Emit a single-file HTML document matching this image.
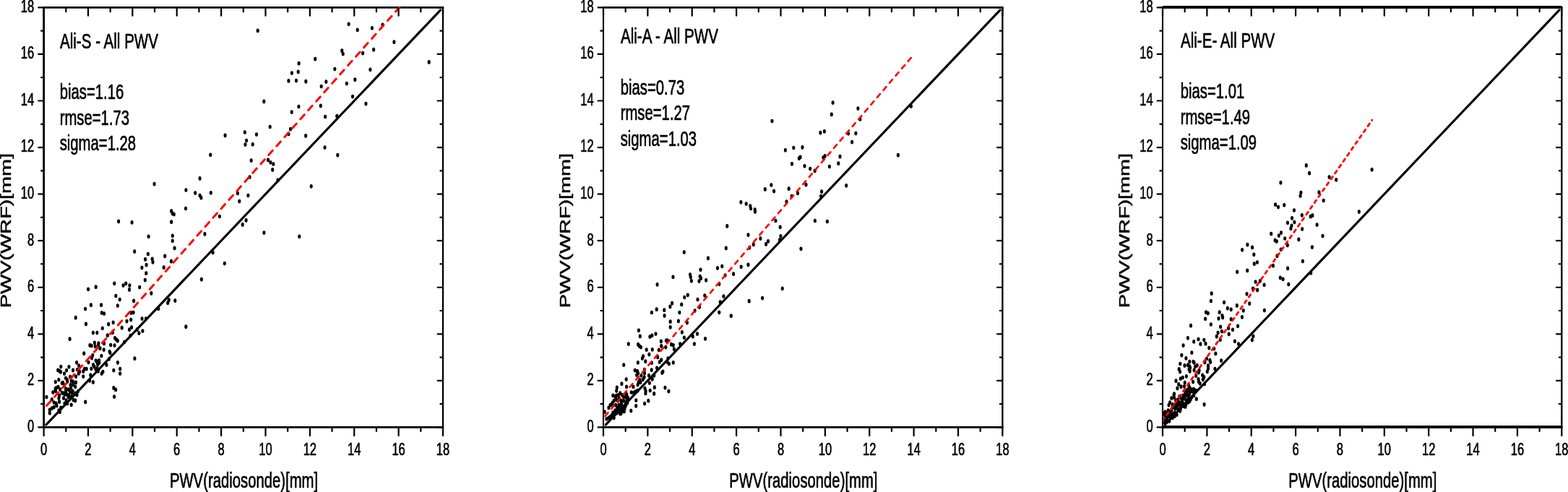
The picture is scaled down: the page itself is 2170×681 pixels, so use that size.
<!DOCTYPE html>
<html><head><meta charset="utf-8"><title>PWV scatter</title>
<style>
html,body{margin:0;padding:0;background:#fff;}
body{width:2170px;height:681px;overflow:hidden;}
svg{display:block;}
text{font-family:"Liberation Sans",Arial,sans-serif;fill:#000;stroke:#000;stroke-width:0.6px;vector-effect:non-scaling-stroke;stroke-linejoin:round;}
</style></head><body>
<svg width="2170" height="681" viewBox="0 0 2170 681">
<rect width="2170" height="681" fill="#fff"/>
<g id="panel1">
<g fill="#000">
<ellipse cx="356.7" cy="42.4" rx="2.05" ry="2.85"/><ellipse cx="482.6" cy="33.3" rx="2.05" ry="2.85"/><ellipse cx="494.7" cy="41.4" rx="2.05" ry="2.85"/><ellipse cx="514.9" cy="38.8" rx="2.05" ry="2.85"/><ellipse cx="529.5" cy="34.3" rx="2.05" ry="2.85"/><ellipse cx="545.4" cy="58.2" rx="2.05" ry="2.85"/><ellipse cx="517.1" cy="68.7" rx="2.05" ry="2.85"/><ellipse cx="502.1" cy="73.6" rx="2.05" ry="2.85"/><ellipse cx="473.3" cy="70.2" rx="2.05" ry="2.85"/><ellipse cx="474.7" cy="74.6" rx="2.05" ry="2.85"/><ellipse cx="436.2" cy="81.7" rx="2.05" ry="2.85"/><ellipse cx="413.6" cy="87.7" rx="2.05" ry="2.85"/><ellipse cx="412.7" cy="99.4" rx="2.05" ry="2.85"/><ellipse cx="403.9" cy="101.1" rx="2.05" ry="2.85"/><ellipse cx="463.3" cy="95.5" rx="2.05" ry="2.85"/><ellipse cx="512.4" cy="96.3" rx="2.05" ry="2.85"/><ellipse cx="593.7" cy="85.9" rx="2.05" ry="2.85"/><ellipse cx="399.4" cy="111.9" rx="2.05" ry="2.85"/><ellipse cx="410.0" cy="111.6" rx="2.05" ry="2.85"/><ellipse cx="423.3" cy="112.7" rx="2.05" ry="2.85"/><ellipse cx="451.3" cy="113.1" rx="2.05" ry="2.85"/><ellipse cx="444.7" cy="119.5" rx="2.05" ry="2.85"/><ellipse cx="479.8" cy="115.6" rx="2.05" ry="2.85"/><ellipse cx="491.3" cy="110.2" rx="2.05" ry="2.85"/><ellipse cx="488.0" cy="133.6" rx="2.05" ry="2.85"/><ellipse cx="506.4" cy="143.6" rx="2.05" ry="2.85"/><ellipse cx="365.3" cy="140.4" rx="2.05" ry="2.85"/><ellipse cx="413.4" cy="147.5" rx="2.05" ry="2.85"/><ellipse cx="443.8" cy="146.4" rx="2.05" ry="2.85"/><ellipse cx="403.7" cy="155.1" rx="2.05" ry="2.85"/><ellipse cx="450.1" cy="161.5" rx="2.05" ry="2.85"/><ellipse cx="466.3" cy="160.7" rx="2.05" ry="2.85"/><ellipse cx="373.7" cy="175.5" rx="2.05" ry="2.85"/><ellipse cx="402.0" cy="178.7" rx="2.05" ry="2.85"/><ellipse cx="399.4" cy="185.4" rx="2.05" ry="2.85"/><ellipse cx="423.1" cy="187.9" rx="2.05" ry="2.85"/><ellipse cx="338.8" cy="183.0" rx="2.05" ry="2.85"/><ellipse cx="355.0" cy="186.1" rx="2.05" ry="2.85"/><ellipse cx="311.6" cy="187.4" rx="2.05" ry="2.85"/><ellipse cx="341.1" cy="194.5" rx="2.05" ry="2.85"/><ellipse cx="339.5" cy="200.1" rx="2.05" ry="2.85"/><ellipse cx="349.7" cy="199.8" rx="2.05" ry="2.85"/><ellipse cx="449.5" cy="204.1" rx="2.05" ry="2.85"/><ellipse cx="467.3" cy="214.7" rx="2.05" ry="2.85"/><ellipse cx="291.3" cy="214.3" rx="2.05" ry="2.85"/><ellipse cx="347.7" cy="222.1" rx="2.05" ry="2.85"/><ellipse cx="371.0" cy="221.4" rx="2.05" ry="2.85"/><ellipse cx="374.4" cy="224.8" rx="2.05" ry="2.85"/><ellipse cx="378.3" cy="227.0" rx="2.05" ry="2.85"/><ellipse cx="377.2" cy="234.9" rx="2.05" ry="2.85"/><ellipse cx="345.6" cy="245.0" rx="2.05" ry="2.85"/><ellipse cx="384.5" cy="249.4" rx="2.05" ry="2.85"/><ellipse cx="430.7" cy="257.8" rx="2.05" ry="2.85"/><ellipse cx="276.6" cy="246.9" rx="2.05" ry="2.85"/><ellipse cx="213.6" cy="254.7" rx="2.05" ry="2.85"/><ellipse cx="257.4" cy="263.0" rx="2.05" ry="2.85"/><ellipse cx="270.2" cy="267.1" rx="2.05" ry="2.85"/><ellipse cx="291.8" cy="266.8" rx="2.05" ry="2.85"/><ellipse cx="276.6" cy="270.5" rx="2.05" ry="2.85"/><ellipse cx="278.4" cy="273.7" rx="2.05" ry="2.85"/><ellipse cx="328.9" cy="267.5" rx="2.05" ry="2.85"/><ellipse cx="343.4" cy="270.5" rx="2.05" ry="2.85"/><ellipse cx="331.3" cy="278.6" rx="2.05" ry="2.85"/><ellipse cx="257.0" cy="288.5" rx="2.05" ry="2.85"/><ellipse cx="237.2" cy="292.2" rx="2.05" ry="2.85"/><ellipse cx="238.7" cy="295.6" rx="2.05" ry="2.85"/><ellipse cx="240.8" cy="296.6" rx="2.05" ry="2.85"/><ellipse cx="303.9" cy="299.5" rx="2.05" ry="2.85"/><ellipse cx="340.6" cy="304.9" rx="2.05" ry="2.85"/><ellipse cx="335.7" cy="310.9" rx="2.05" ry="2.85"/><ellipse cx="164.1" cy="306.4" rx="2.05" ry="2.85"/><ellipse cx="182.6" cy="307.8" rx="2.05" ry="2.85"/><ellipse cx="237.2" cy="307.2" rx="2.05" ry="2.85"/><ellipse cx="365.4" cy="322.0" rx="2.05" ry="2.85"/><ellipse cx="414.3" cy="327.3" rx="2.05" ry="2.85"/><ellipse cx="283.4" cy="323.9" rx="2.05" ry="2.85"/><ellipse cx="205.6" cy="327.3" rx="2.05" ry="2.85"/><ellipse cx="238.8" cy="326.3" rx="2.05" ry="2.85"/><ellipse cx="238.8" cy="333.3" rx="2.05" ry="2.85"/><ellipse cx="241.6" cy="343.4" rx="2.05" ry="2.85"/><ellipse cx="294.6" cy="349.6" rx="2.05" ry="2.85"/><ellipse cx="186.2" cy="348.1" rx="2.05" ry="2.85"/><ellipse cx="204.9" cy="351.5" rx="2.05" ry="2.85"/><ellipse cx="228.2" cy="354.4" rx="2.05" ry="2.85"/><ellipse cx="201.1" cy="358.9" rx="2.05" ry="2.85"/><ellipse cx="210.7" cy="358.4" rx="2.05" ry="2.85"/><ellipse cx="211.5" cy="362.8" rx="2.05" ry="2.85"/><ellipse cx="236.9" cy="361.7" rx="2.05" ry="2.85"/><ellipse cx="202.6" cy="366.7" rx="2.05" ry="2.85"/><ellipse cx="196.4" cy="370.5" rx="2.05" ry="2.85"/><ellipse cx="226.7" cy="370.2" rx="2.05" ry="2.85"/><ellipse cx="310.8" cy="364.6" rx="2.05" ry="2.85"/><ellipse cx="202.3" cy="378.2" rx="2.05" ry="2.85"/><ellipse cx="200.8" cy="387.6" rx="2.05" ry="2.85"/><ellipse cx="278.9" cy="386.7" rx="2.05" ry="2.85"/><ellipse cx="158.3" cy="392.3" rx="2.05" ry="2.85"/><ellipse cx="174.2" cy="392.3" rx="2.05" ry="2.85"/><ellipse cx="170.6" cy="395.0" rx="2.05" ry="2.85"/><ellipse cx="179.4" cy="395.0" rx="2.05" ry="2.85"/><ellipse cx="179.0" cy="400.9" rx="2.05" ry="2.85"/><ellipse cx="193.2" cy="397.5" rx="2.05" ry="2.85"/><ellipse cx="132.7" cy="397.2" rx="2.05" ry="2.85"/><ellipse cx="122.1" cy="400.3" rx="2.05" ry="2.85"/><ellipse cx="209.4" cy="405.9" rx="2.05" ry="2.85"/><ellipse cx="160.3" cy="409.5" rx="2.05" ry="2.85"/><ellipse cx="165.7" cy="414.5" rx="2.05" ry="2.85"/><ellipse cx="185.1" cy="416.4" rx="2.05" ry="2.85"/><ellipse cx="233.7" cy="415.2" rx="2.05" ry="2.85"/><ellipse cx="242.3" cy="416.1" rx="2.05" ry="2.85"/><ellipse cx="232.2" cy="419.2" rx="2.05" ry="2.85"/><ellipse cx="125.9" cy="422.2" rx="2.05" ry="2.85"/><ellipse cx="140.1" cy="422.2" rx="2.05" ry="2.85"/><ellipse cx="162.8" cy="423.0" rx="2.05" ry="2.85"/><ellipse cx="118.1" cy="427.5" rx="2.05" ry="2.85"/><ellipse cx="219.3" cy="427.2" rx="2.05" ry="2.85"/><ellipse cx="140.8" cy="432.9" rx="2.05" ry="2.85"/><ellipse cx="144.1" cy="434.0" rx="2.05" ry="2.85"/><ellipse cx="181.4" cy="432.9" rx="2.05" ry="2.85"/><ellipse cx="184.6" cy="432.5" rx="2.05" ry="2.85"/><ellipse cx="104.7" cy="439.7" rx="2.05" ry="2.85"/><ellipse cx="196.6" cy="441.0" rx="2.05" ry="2.85"/><ellipse cx="202.0" cy="441.0" rx="2.05" ry="2.85"/><ellipse cx="181.2" cy="442.5" rx="2.05" ry="2.85"/><ellipse cx="175.5" cy="444.6" rx="2.05" ry="2.85"/><ellipse cx="156.7" cy="446.3" rx="2.05" ry="2.85"/><ellipse cx="150.2" cy="448.7" rx="2.05" ry="2.85"/><ellipse cx="119.0" cy="448.4" rx="2.05" ry="2.85"/><ellipse cx="182.1" cy="453.1" rx="2.05" ry="2.85"/><ellipse cx="168.7" cy="453.7" rx="2.05" ry="2.85"/><ellipse cx="179.0" cy="456.2" rx="2.05" ry="2.85"/><ellipse cx="189.8" cy="456.2" rx="2.05" ry="2.85"/><ellipse cx="141.8" cy="454.3" rx="2.05" ry="2.85"/><ellipse cx="257.3" cy="452.2" rx="2.05" ry="2.85"/><ellipse cx="197.4" cy="458.1" rx="2.05" ry="2.85"/><ellipse cx="192.4" cy="461.2" rx="2.05" ry="2.85"/><ellipse cx="128.9" cy="460.5" rx="2.05" ry="2.85"/><ellipse cx="134.3" cy="460.6" rx="2.05" ry="2.85"/><ellipse cx="155.9" cy="460.2" rx="2.05" ry="2.85"/><ellipse cx="148.8" cy="464.2" rx="2.05" ry="2.85"/><ellipse cx="180.5" cy="464.6" rx="2.05" ry="2.85"/><ellipse cx="159.1" cy="467.9" rx="2.05" ry="2.85"/><ellipse cx="161.0" cy="469.8" rx="2.05" ry="2.85"/><ellipse cx="162.8" cy="471.7" rx="2.05" ry="2.85"/><ellipse cx="96.6" cy="469.2" rx="2.05" ry="2.85"/><ellipse cx="172.1" cy="473.5" rx="2.05" ry="2.85"/><ellipse cx="130.9" cy="474.4" rx="2.05" ry="2.85"/><ellipse cx="136.4" cy="475.2" rx="2.05" ry="2.85"/><ellipse cx="124.4" cy="477.9" rx="2.05" ry="2.85"/><ellipse cx="126.7" cy="478.6" rx="2.05" ry="2.85"/><ellipse cx="144.1" cy="475.4" rx="2.05" ry="2.85"/><ellipse cx="153.2" cy="477.5" rx="2.05" ry="2.85"/><ellipse cx="158.5" cy="478.1" rx="2.05" ry="2.85"/><ellipse cx="131.8" cy="479.4" rx="2.05" ry="2.85"/><ellipse cx="136.2" cy="477.9" rx="2.05" ry="2.85"/><ellipse cx="116.2" cy="489.2" rx="2.05" ry="2.85"/><ellipse cx="128.2" cy="491.8" rx="2.05" ry="2.85"/><ellipse cx="140.4" cy="492.5" rx="2.05" ry="2.85"/><ellipse cx="127.1" cy="495.5" rx="2.05" ry="2.85"/><ellipse cx="151.0" cy="496.8" rx="2.05" ry="2.85"/><ellipse cx="186.4" cy="496.2" rx="2.05" ry="2.85"/><ellipse cx="132.7" cy="499.0" rx="2.05" ry="2.85"/><ellipse cx="137.1" cy="498.8" rx="2.05" ry="2.85"/><ellipse cx="134.3" cy="501.5" rx="2.05" ry="2.85"/><ellipse cx="137.4" cy="502.1" rx="2.05" ry="2.85"/><ellipse cx="106.1" cy="501.8" rx="2.05" ry="2.85"/><ellipse cx="122.5" cy="501.5" rx="2.05" ry="2.85"/><ellipse cx="162.9" cy="501.8" rx="2.05" ry="2.85"/><ellipse cx="129.1" cy="504.9" rx="2.05" ry="2.85"/><ellipse cx="147.4" cy="504.9" rx="2.05" ry="2.85"/><ellipse cx="109.2" cy="506.0" rx="2.05" ry="2.85"/><ellipse cx="130.5" cy="507.6" rx="2.05" ry="2.85"/><ellipse cx="84.3" cy="507.6" rx="2.05" ry="2.85"/><ellipse cx="95.4" cy="507.8" rx="2.05" ry="2.85"/><ellipse cx="126.4" cy="510.2" rx="2.05" ry="2.85"/><ellipse cx="117.0" cy="510.4" rx="2.05" ry="2.85"/><ellipse cx="119.7" cy="510.6" rx="2.05" ry="2.85"/><ellipse cx="132.4" cy="510.9" rx="2.05" ry="2.85"/><ellipse cx="166.2" cy="510.6" rx="2.05" ry="2.85"/><ellipse cx="80.2" cy="512.3" rx="2.05" ry="2.85"/><ellipse cx="82.7" cy="513.7" rx="2.05" ry="2.85"/><ellipse cx="84.0" cy="514.8" rx="2.05" ry="2.85"/><ellipse cx="92.1" cy="512.6" rx="2.05" ry="2.85"/><ellipse cx="101.1" cy="512.4" rx="2.05" ry="2.85"/><ellipse cx="107.0" cy="511.5" rx="2.05" ry="2.85"/><ellipse cx="157.3" cy="512.6" rx="2.05" ry="2.85"/><ellipse cx="115.3" cy="513.9" rx="2.05" ry="2.85"/><ellipse cx="135.8" cy="513.7" rx="2.05" ry="2.85"/><ellipse cx="142.4" cy="514.5" rx="2.05" ry="2.85"/><ellipse cx="140.7" cy="517.0" rx="2.05" ry="2.85"/><ellipse cx="89.0" cy="517.0" rx="2.05" ry="2.85"/><ellipse cx="108.7" cy="517.0" rx="2.05" ry="2.85"/><ellipse cx="166.2" cy="517.0" rx="2.05" ry="2.85"/><ellipse cx="125.3" cy="519.2" rx="2.05" ry="2.85"/><ellipse cx="105.0" cy="521.1" rx="2.05" ry="2.85"/><ellipse cx="115.3" cy="521.1" rx="2.05" ry="2.85"/><ellipse cx="97.1" cy="521.5" rx="2.05" ry="2.85"/><ellipse cx="91.0" cy="523.3" rx="2.05" ry="2.85"/><ellipse cx="92.8" cy="525.3" rx="2.05" ry="2.85"/><ellipse cx="81.3" cy="525.5" rx="2.05" ry="2.85"/><ellipse cx="98.7" cy="527.0" rx="2.05" ry="2.85"/><ellipse cx="100.9" cy="528.1" rx="2.05" ry="2.85"/><ellipse cx="76.8" cy="528.6" rx="2.05" ry="2.85"/><ellipse cx="105.0" cy="529.4" rx="2.05" ry="2.85"/><ellipse cx="87.1" cy="529.7" rx="2.05" ry="2.85"/><ellipse cx="124.1" cy="526.8" rx="2.05" ry="2.85"/><ellipse cx="128.8" cy="528.9" rx="2.05" ry="2.85"/><ellipse cx="93.2" cy="528.1" rx="2.05" ry="2.85"/><ellipse cx="97.6" cy="532.5" rx="2.05" ry="2.85"/><ellipse cx="88.8" cy="533.1" rx="2.05" ry="2.85"/><ellipse cx="104.2" cy="535.3" rx="2.05" ry="2.85"/><ellipse cx="80.5" cy="535.6" rx="2.05" ry="2.85"/><ellipse cx="76.6" cy="538.6" rx="2.05" ry="2.85"/><ellipse cx="98.2" cy="536.9" rx="2.05" ry="2.85"/><ellipse cx="91.0" cy="538.0" rx="2.05" ry="2.85"/><ellipse cx="83.2" cy="539.1" rx="2.05" ry="2.85"/><ellipse cx="157.3" cy="536.9" rx="2.05" ry="2.85"/><ellipse cx="160.1" cy="539.4" rx="2.05" ry="2.85"/><ellipse cx="151.6" cy="486.6" rx="2.05" ry="2.85"/><ellipse cx="152.4" cy="488.3" rx="2.05" ry="2.85"/><ellipse cx="143.7" cy="484.1" rx="2.05" ry="2.85"/><ellipse cx="138.5" cy="482.2" rx="2.05" ry="2.85"/><ellipse cx="64.4" cy="549.6" rx="2.05" ry="2.85"/><ellipse cx="118.2" cy="556.4" rx="2.05" ry="2.85"/><ellipse cx="158.1" cy="549.0" rx="2.05" ry="2.85"/><ellipse cx="98.7" cy="560.3" rx="2.05" ry="2.85"/><ellipse cx="101.7" cy="553.6" rx="2.05" ry="2.85"/><ellipse cx="104.2" cy="554.4" rx="2.05" ry="2.85"/><ellipse cx="68.8" cy="571.7" rx="2.05" ry="2.85"/><ellipse cx="82.9" cy="570.2" rx="2.05" ry="2.85"/><ellipse cx="68.8" cy="567.3" rx="2.05" ry="2.85"/><ellipse cx="71.8" cy="565.1" rx="2.05" ry="2.85"/><ellipse cx="74.7" cy="563.6" rx="2.05" ry="2.85"/><ellipse cx="78.4" cy="561.4" rx="2.05" ry="2.85"/><ellipse cx="81.4" cy="568.0" rx="2.05" ry="2.85"/><ellipse cx="84.3" cy="564.3" rx="2.05" ry="2.85"/><ellipse cx="71.8" cy="552.9" rx="2.05" ry="2.85"/><ellipse cx="74.7" cy="557.0" rx="2.05" ry="2.85"/><ellipse cx="77.7" cy="558.4" rx="2.05" ry="2.85"/><ellipse cx="81.4" cy="551.1" rx="2.05" ry="2.85"/><ellipse cx="82.1" cy="547.4" rx="2.05" ry="2.85"/><ellipse cx="73.3" cy="542.9" rx="2.05" ry="2.85"/><ellipse cx="77.0" cy="541.5" rx="2.05" ry="2.85"/><ellipse cx="82.1" cy="556.2" rx="2.05" ry="2.85"/><ellipse cx="88.0" cy="551.1" rx="2.05" ry="2.85"/><ellipse cx="91.7" cy="554.0" rx="2.05" ry="2.85"/><ellipse cx="93.2" cy="558.4" rx="2.05" ry="2.85"/><ellipse cx="89.5" cy="558.4" rx="2.05" ry="2.85"/><ellipse cx="85.8" cy="543.7" rx="2.05" ry="2.85"/><ellipse cx="89.5" cy="545.9" rx="2.05" ry="2.85"/><ellipse cx="93.2" cy="546.6" rx="2.05" ry="2.85"/><ellipse cx="96.9" cy="542.2" rx="2.05" ry="2.85"/><ellipse cx="99.8" cy="544.4" rx="2.05" ry="2.85"/><ellipse cx="104.2" cy="544.4" rx="2.05" ry="2.85"/><ellipse cx="106.5" cy="546.6" rx="2.05" ry="2.85"/><ellipse cx="107.9" cy="541.5" rx="2.05" ry="2.85"/><ellipse cx="91.0" cy="542.2" rx="2.05" ry="2.85"/><ellipse cx="94.7" cy="549.6" rx="2.05" ry="2.85"/><ellipse cx="98.3" cy="549.6" rx="2.05" ry="2.85"/><ellipse cx="110.1" cy="514.4" rx="2.05" ry="2.85"/><ellipse cx="135.2" cy="504.4" rx="2.05" ry="2.85"/><ellipse cx="134.5" cy="509.6" rx="2.05" ry="2.85"/><ellipse cx="77.7" cy="536.9" rx="2.05" ry="2.85"/><ellipse cx="85.8" cy="530.2" rx="2.05" ry="2.85"/><ellipse cx="101.3" cy="532.4" rx="2.05" ry="2.85"/><ellipse cx="94.7" cy="539.1" rx="2.05" ry="2.85"/><ellipse cx="100.6" cy="541.3" rx="2.05" ry="2.85"/><ellipse cx="91.7" cy="545.0" rx="2.05" ry="2.85"/><ellipse cx="87.3" cy="544.2" rx="2.05" ry="2.85"/><ellipse cx="95.4" cy="547.2" rx="2.05" ry="2.85"/>
</g>
<line x1="63.90" y1="587.90" x2="609.70" y2="13.90" stroke="#000" stroke-width="3.15" stroke-linecap="round"/>
<path d="M59.15 10.40H614.15M59.15 591.40H614.15" fill="none" stroke="#000" stroke-width="2.7"/>
<line x1="60.60" y1="10.40" x2="60.60" y2="591.40" stroke="#000" stroke-width="2.9"/>
<line x1="613.00" y1="10.40" x2="613.00" y2="591.40" stroke="#000" stroke-width="2.3" stroke-linecap="square"/>
<line x1="552.70" y1="10.30" x2="63.70" y2="562.50" stroke="#f00" stroke-width="3.0" stroke-dasharray="8.3 8.257" stroke-dashoffset="0.4" stroke-linecap="round"/>
<path d="M60.60 592.40v10.7M60.60 11.40v10.3M59.60 591.40h-6.4M612.00 591.40h-6.4M91.29 592.40v4.6M91.29 11.40v4.9M59.60 559.12h-2.6M612.00 559.12h-2.6M121.98 592.40v10.7M121.98 11.40v10.3M59.60 526.84h-6.4M612.00 526.84h-6.4M152.67 592.40v4.6M152.67 11.40v4.9M59.60 494.57h-2.6M612.00 494.57h-2.6M183.36 592.40v10.7M183.36 11.40v10.3M59.60 462.29h-6.4M612.00 462.29h-6.4M214.04 592.40v4.6M214.04 11.40v4.9M59.60 430.01h-2.6M612.00 430.01h-2.6M244.73 592.40v10.7M244.73 11.40v10.3M59.60 397.73h-6.4M612.00 397.73h-6.4M275.42 592.40v4.6M275.42 11.40v4.9M59.60 365.46h-2.6M612.00 365.46h-2.6M306.11 592.40v10.7M306.11 11.40v10.3M59.60 333.18h-6.4M612.00 333.18h-6.4M336.80 592.40v4.6M336.80 11.40v4.9M59.60 300.90h-2.6M612.00 300.90h-2.6M367.49 592.40v10.7M367.49 11.40v10.3M59.60 268.62h-6.4M612.00 268.62h-6.4M398.18 592.40v4.6M398.18 11.40v4.9M59.60 236.34h-2.6M612.00 236.34h-2.6M428.87 592.40v10.7M428.87 11.40v10.3M59.60 204.07h-6.4M612.00 204.07h-6.4M459.56 592.40v4.6M459.56 11.40v4.9M59.60 171.79h-2.6M612.00 171.79h-2.6M490.24 592.40v10.7M490.24 11.40v10.3M59.60 139.51h-6.4M612.00 139.51h-6.4M520.93 592.40v4.6M520.93 11.40v4.9M59.60 107.23h-2.6M612.00 107.23h-2.6M551.62 592.40v10.7M551.62 11.40v10.3M59.60 74.96h-6.4M612.00 74.96h-6.4M582.31 592.40v4.6M582.31 11.40v4.9M59.60 42.68h-2.6M612.00 42.68h-2.6M613.00 592.40v10.7M613.00 11.40v10.3M59.60 10.40h-6.4M612.00 10.40h-6.4" stroke="#000" stroke-width="2.2" fill="none" stroke-linecap="round"/>
<text transform="translate(60.60,629.80) scale(0.69,1)" font-size="24.0" text-anchor="middle">0</text>
<text transform="translate(47.20,597.80) scale(0.69,1)" font-size="24.0" text-anchor="end">0</text>
<text transform="translate(121.98,629.80) scale(0.69,1)" font-size="24.0" text-anchor="middle">2</text>
<text transform="translate(47.20,533.24) scale(0.69,1)" font-size="24.0" text-anchor="end">2</text>
<text transform="translate(183.36,629.80) scale(0.69,1)" font-size="24.0" text-anchor="middle">4</text>
<text transform="translate(47.20,468.69) scale(0.69,1)" font-size="24.0" text-anchor="end">4</text>
<text transform="translate(244.73,629.80) scale(0.69,1)" font-size="24.0" text-anchor="middle">6</text>
<text transform="translate(47.20,404.13) scale(0.69,1)" font-size="24.0" text-anchor="end">6</text>
<text transform="translate(306.11,629.80) scale(0.69,1)" font-size="24.0" text-anchor="middle">8</text>
<text transform="translate(47.20,339.58) scale(0.69,1)" font-size="24.0" text-anchor="end">8</text>
<text transform="translate(367.49,629.80) scale(0.69,1)" font-size="24.0" text-anchor="middle">10</text>
<text transform="translate(47.20,275.02) scale(0.69,1)" font-size="24.0" text-anchor="end">10</text>
<text transform="translate(428.87,629.80) scale(0.69,1)" font-size="24.0" text-anchor="middle">12</text>
<text transform="translate(47.20,210.47) scale(0.69,1)" font-size="24.0" text-anchor="end">12</text>
<text transform="translate(490.24,629.80) scale(0.69,1)" font-size="24.0" text-anchor="middle">14</text>
<text transform="translate(47.20,145.91) scale(0.69,1)" font-size="24.0" text-anchor="end">14</text>
<text transform="translate(551.62,629.80) scale(0.69,1)" font-size="24.0" text-anchor="middle">16</text>
<text transform="translate(47.20,81.36) scale(0.69,1)" font-size="24.0" text-anchor="end">16</text>
<text transform="translate(613.00,629.80) scale(0.69,1)" font-size="24.0" text-anchor="middle">18</text>
<text transform="translate(47.20,16.80) scale(0.69,1)" font-size="24.0" text-anchor="end">18</text>
<text transform="translate(337.50,674.90) scale(0.69,1)" font-size="29.4" text-anchor="middle">PWV(radiosonde)[mm]</text>
<text transform="translate(14.75,319.10) scale(0.69,1) rotate(-90)" font-size="28.8" text-anchor="middle">PWV(WRF)[mm]</text>
<text transform="translate(83.00,66.50) scale(0.7,1)" font-size="29.4" text-anchor="start">Ali-S - All PWV</text>
<text transform="translate(82.70,137.40) scale(0.69,1)" font-size="29.4" text-anchor="start">bias=1.16</text>
<text transform="translate(82.70,172.80) scale(0.69,1)" font-size="29.4" text-anchor="start">rmse=1.73</text>
<text transform="translate(82.70,208.10) scale(0.69,1)" font-size="29.4" text-anchor="start">sigma=1.28</text>
</g>
<g id="panel2">
<g fill="#000">
<ellipse cx="1152.6" cy="142.1" rx="2.05" ry="2.85"/><ellipse cx="1187.4" cy="150.1" rx="2.05" ry="2.85"/><ellipse cx="1150.8" cy="158.4" rx="2.05" ry="2.85"/><ellipse cx="1190.3" cy="164.9" rx="2.05" ry="2.85"/><ellipse cx="1260.9" cy="146.9" rx="2.05" ry="2.85"/><ellipse cx="1135.4" cy="183.7" rx="2.05" ry="2.85"/><ellipse cx="1140.9" cy="181.8" rx="2.05" ry="2.85"/><ellipse cx="1174.1" cy="184.8" rx="2.05" ry="2.85"/><ellipse cx="1184.4" cy="184.5" rx="2.05" ry="2.85"/><ellipse cx="1179.1" cy="196.6" rx="2.05" ry="2.85"/><ellipse cx="1098.3" cy="204.5" rx="2.05" ry="2.85"/><ellipse cx="1110.5" cy="203.9" rx="2.05" ry="2.85"/><ellipse cx="1086.9" cy="207.8" rx="2.05" ry="2.85"/><ellipse cx="1242.9" cy="214.7" rx="2.05" ry="2.85"/><ellipse cx="1162.5" cy="216.7" rx="2.05" ry="2.85"/><ellipse cx="1139.4" cy="218.1" rx="2.05" ry="2.85"/><ellipse cx="1141.6" cy="215.9" rx="2.05" ry="2.85"/><ellipse cx="1105.9" cy="219.2" rx="2.05" ry="2.85"/><ellipse cx="1107.6" cy="217.4" rx="2.05" ry="2.85"/><ellipse cx="1096.0" cy="226.8" rx="2.05" ry="2.85"/><ellipse cx="1113.5" cy="229.8" rx="2.05" ry="2.85"/><ellipse cx="1147.9" cy="230.5" rx="2.05" ry="2.85"/><ellipse cx="1160.3" cy="226.2" rx="2.05" ry="2.85"/><ellipse cx="1121.2" cy="233.5" rx="2.05" ry="2.85"/><ellipse cx="1127.7" cy="236.4" rx="2.05" ry="2.85"/><ellipse cx="1115.5" cy="255.7" rx="2.05" ry="2.85"/><ellipse cx="1171.2" cy="256.8" rx="2.05" ry="2.85"/><ellipse cx="1067.4" cy="256.0" rx="2.05" ry="2.85"/><ellipse cx="1058.8" cy="261.9" rx="2.05" ry="2.85"/><ellipse cx="1071.1" cy="264.6" rx="2.05" ry="2.85"/><ellipse cx="1091.7" cy="261.2" rx="2.05" ry="2.85"/><ellipse cx="1104.0" cy="267.4" rx="2.05" ry="2.85"/><ellipse cx="1095.6" cy="271.5" rx="2.05" ry="2.85"/><ellipse cx="1137.1" cy="265.2" rx="2.05" ry="2.85"/><ellipse cx="1136.1" cy="271.5" rx="2.05" ry="2.85"/><ellipse cx="1088.5" cy="279.2" rx="2.05" ry="2.85"/><ellipse cx="1025.4" cy="279.8" rx="2.05" ry="2.85"/><ellipse cx="1032.7" cy="282.1" rx="2.05" ry="2.85"/><ellipse cx="1038.3" cy="285.1" rx="2.05" ry="2.85"/><ellipse cx="1039.1" cy="288.5" rx="2.05" ry="2.85"/><ellipse cx="1044.7" cy="290.0" rx="2.05" ry="2.85"/><ellipse cx="1045.0" cy="292.9" rx="2.05" ry="2.85"/><ellipse cx="1073.4" cy="305.5" rx="2.05" ry="2.85"/><ellipse cx="1079.7" cy="314.3" rx="2.05" ry="2.85"/><ellipse cx="1127.9" cy="305.5" rx="2.05" ry="2.85"/><ellipse cx="1144.9" cy="306.5" rx="2.05" ry="2.85"/><ellipse cx="1006.3" cy="312.9" rx="2.05" ry="2.85"/><ellipse cx="1035.5" cy="325.1" rx="2.05" ry="2.85"/><ellipse cx="1052.4" cy="330.1" rx="2.05" ry="2.85"/><ellipse cx="1080.4" cy="326.9" rx="2.05" ry="2.85"/><ellipse cx="1079.0" cy="332.0" rx="2.05" ry="2.85"/><ellipse cx="1063.0" cy="333.9" rx="2.05" ry="2.85"/><ellipse cx="1060.1" cy="337.9" rx="2.05" ry="2.85"/><ellipse cx="1042.8" cy="338.4" rx="2.05" ry="2.85"/><ellipse cx="1037.2" cy="342.8" rx="2.05" ry="2.85"/><ellipse cx="1004.8" cy="343.4" rx="2.05" ry="2.85"/><ellipse cx="1108.5" cy="344.3" rx="2.05" ry="2.85"/><ellipse cx="946.8" cy="349.0" rx="2.05" ry="2.85"/><ellipse cx="980.0" cy="357.4" rx="2.05" ry="2.85"/><ellipse cx="1035.5" cy="366.4" rx="2.05" ry="2.85"/><ellipse cx="1025.7" cy="369.3" rx="2.05" ry="2.85"/><ellipse cx="999.3" cy="368.5" rx="2.05" ry="2.85"/><ellipse cx="993.0" cy="371.1" rx="2.05" ry="2.85"/><ellipse cx="969.5" cy="373.3" rx="2.05" ry="2.85"/><ellipse cx="1003.6" cy="381.1" rx="2.05" ry="2.85"/><ellipse cx="1015.1" cy="379.2" rx="2.05" ry="2.85"/><ellipse cx="931.5" cy="383.3" rx="2.05" ry="2.85"/><ellipse cx="955.1" cy="380.0" rx="2.05" ry="2.85"/><ellipse cx="955.8" cy="383.6" rx="2.05" ry="2.85"/><ellipse cx="968.7" cy="382.6" rx="2.05" ry="2.85"/><ellipse cx="970.1" cy="385.1" rx="2.05" ry="2.85"/><ellipse cx="977.2" cy="387.8" rx="2.05" ry="2.85"/><ellipse cx="956.9" cy="388.8" rx="2.05" ry="2.85"/><ellipse cx="967.5" cy="389.1" rx="2.05" ry="2.85"/><ellipse cx="909.6" cy="393.8" rx="2.05" ry="2.85"/><ellipse cx="995.3" cy="393.1" rx="2.05" ry="2.85"/><ellipse cx="1082.8" cy="399.3" rx="2.05" ry="2.85"/><ellipse cx="951.8" cy="408.3" rx="2.05" ry="2.85"/><ellipse cx="947.3" cy="411.5" rx="2.05" ry="2.85"/><ellipse cx="975.3" cy="409.0" rx="2.05" ry="2.85"/><ellipse cx="965.5" cy="414.5" rx="2.05" ry="2.85"/><ellipse cx="1001.4" cy="410.1" rx="2.05" ry="2.85"/><ellipse cx="996.7" cy="418.2" rx="2.05" ry="2.85"/><ellipse cx="1036.7" cy="416.7" rx="2.05" ry="2.85"/><ellipse cx="1055.1" cy="412.6" rx="2.05" ry="2.85"/><ellipse cx="930.1" cy="419.7" rx="2.05" ry="2.85"/><ellipse cx="943.2" cy="421.4" rx="2.05" ry="2.85"/><ellipse cx="927.4" cy="424.4" rx="2.05" ry="2.85"/><ellipse cx="908.7" cy="428.2" rx="2.05" ry="2.85"/><ellipse cx="919.3" cy="429.2" rx="2.05" ry="2.85"/><ellipse cx="901.9" cy="432.5" rx="2.05" ry="2.85"/><ellipse cx="940.4" cy="432.5" rx="2.05" ry="2.85"/><ellipse cx="961.6" cy="430.0" rx="2.05" ry="2.85"/><ellipse cx="968.0" cy="425.1" rx="2.05" ry="2.85"/><ellipse cx="995.3" cy="432.3" rx="2.05" ry="2.85"/><ellipse cx="919.6" cy="436.9" rx="2.05" ry="2.85"/><ellipse cx="1011.8" cy="437.2" rx="2.05" ry="2.85"/><ellipse cx="927.7" cy="445.2" rx="2.05" ry="2.85"/><ellipse cx="938.9" cy="444.4" rx="2.05" ry="2.85"/><ellipse cx="950.9" cy="446.6" rx="2.05" ry="2.85"/><ellipse cx="927.7" cy="452.8" rx="2.05" ry="2.85"/><ellipse cx="883.9" cy="457.3" rx="2.05" ry="2.85"/><ellipse cx="943.9" cy="459.8" rx="2.05" ry="2.85"/><ellipse cx="907.5" cy="462.1" rx="2.05" ry="2.85"/><ellipse cx="902.4" cy="464.3" rx="2.05" ry="2.85"/><ellipse cx="899.4" cy="466.1" rx="2.05" ry="2.85"/><ellipse cx="885.8" cy="465.4" rx="2.05" ry="2.85"/><ellipse cx="965.0" cy="462.0" rx="2.05" ry="2.85"/><ellipse cx="958.8" cy="465.7" rx="2.05" ry="2.85"/><ellipse cx="946.9" cy="467.3" rx="2.05" ry="2.85"/><ellipse cx="976.1" cy="468.8" rx="2.05" ry="2.85"/><ellipse cx="914.9" cy="472.4" rx="2.05" ry="2.85"/><ellipse cx="922.0" cy="471.3" rx="2.05" ry="2.85"/><ellipse cx="923.7" cy="471.0" rx="2.05" ry="2.85"/><ellipse cx="869.8" cy="476.1" rx="2.05" ry="2.85"/><ellipse cx="883.1" cy="476.7" rx="2.05" ry="2.85"/><ellipse cx="884.8" cy="478.9" rx="2.05" ry="2.85"/><ellipse cx="887.0" cy="480.5" rx="2.05" ry="2.85"/><ellipse cx="894.7" cy="484.1" rx="2.05" ry="2.85"/><ellipse cx="902.8" cy="483.8" rx="2.05" ry="2.85"/><ellipse cx="911.9" cy="484.4" rx="2.05" ry="2.85"/><ellipse cx="915.2" cy="478.9" rx="2.05" ry="2.85"/><ellipse cx="921.3" cy="480.5" rx="2.05" ry="2.85"/><ellipse cx="929.0" cy="476.7" rx="2.05" ry="2.85"/><ellipse cx="931.8" cy="477.8" rx="2.05" ry="2.85"/><ellipse cx="932.9" cy="483.3" rx="2.05" ry="2.85"/><ellipse cx="960.9" cy="476.1" rx="2.05" ry="2.85"/><ellipse cx="941.2" cy="476.1" rx="2.05" ry="2.85"/><ellipse cx="898.4" cy="490.5" rx="2.05" ry="2.85"/><ellipse cx="890.1" cy="493.2" rx="2.05" ry="2.85"/><ellipse cx="888.9" cy="496.0" rx="2.05" ry="2.85"/><ellipse cx="893.3" cy="500.2" rx="2.05" ry="2.85"/><ellipse cx="882.8" cy="501.8" rx="2.05" ry="2.85"/><ellipse cx="863.2" cy="505.1" rx="2.05" ry="2.85"/><ellipse cx="910.2" cy="494.4" rx="2.05" ry="2.85"/><ellipse cx="915.2" cy="498.2" rx="2.05" ry="2.85"/><ellipse cx="912.8" cy="501.0" rx="2.05" ry="2.85"/><ellipse cx="901.9" cy="502.1" rx="2.05" ry="2.85"/><ellipse cx="924.4" cy="496.0" rx="2.05" ry="2.85"/><ellipse cx="923.5" cy="501.0" rx="2.05" ry="2.85"/><ellipse cx="925.9" cy="503.5" rx="2.05" ry="2.85"/><ellipse cx="931.8" cy="501.8" rx="2.05" ry="2.85"/><ellipse cx="909.1" cy="509.3" rx="2.05" ry="2.85"/><ellipse cx="901.7" cy="512.1" rx="2.05" ry="2.85"/><ellipse cx="892.0" cy="511.5" rx="2.05" ry="2.85"/><ellipse cx="878.7" cy="512.6" rx="2.05" ry="2.85"/><ellipse cx="882.0" cy="513.7" rx="2.05" ry="2.85"/><ellipse cx="883.1" cy="516.5" rx="2.05" ry="2.85"/><ellipse cx="917.4" cy="514.3" rx="2.05" ry="2.85"/><ellipse cx="916.3" cy="516.1" rx="2.05" ry="2.85"/><ellipse cx="881.2" cy="519.0" rx="2.05" ry="2.85"/><ellipse cx="892.0" cy="516.5" rx="2.05" ry="2.85"/><ellipse cx="898.0" cy="519.8" rx="2.05" ry="2.85"/><ellipse cx="905.2" cy="519.8" rx="2.05" ry="2.85"/><ellipse cx="887.5" cy="519.8" rx="2.05" ry="2.85"/><ellipse cx="891.6" cy="522.0" rx="2.05" ry="2.85"/><ellipse cx="902.7" cy="524.8" rx="2.05" ry="2.85"/><ellipse cx="889.7" cy="525.3" rx="2.05" ry="2.85"/><ellipse cx="885.3" cy="525.9" rx="2.05" ry="2.85"/><ellipse cx="866.7" cy="525.0" rx="2.05" ry="2.85"/><ellipse cx="883.7" cy="529.2" rx="2.05" ry="2.85"/><ellipse cx="886.4" cy="529.2" rx="2.05" ry="2.85"/><ellipse cx="898.9" cy="530.0" rx="2.05" ry="2.85"/><ellipse cx="860.4" cy="531.2" rx="2.05" ry="2.85"/><ellipse cx="882.6" cy="532.5" rx="2.05" ry="2.85"/><ellipse cx="867.1" cy="535.3" rx="2.05" ry="2.85"/><ellipse cx="876.5" cy="535.3" rx="2.05" ry="2.85"/><ellipse cx="853.8" cy="536.4" rx="2.05" ry="2.85"/><ellipse cx="892.5" cy="537.5" rx="2.05" ry="2.85"/><ellipse cx="905.8" cy="536.2" rx="2.05" ry="2.85"/><ellipse cx="920.5" cy="536.6" rx="2.05" ry="2.85"/><ellipse cx="853.2" cy="540.8" rx="2.05" ry="2.85"/><ellipse cx="893.6" cy="541.4" rx="2.05" ry="2.85"/><ellipse cx="899.7" cy="540.5" rx="2.05" ry="2.85"/><ellipse cx="925.4" cy="541.6" rx="2.05" ry="2.85"/><ellipse cx="858.2" cy="544.1" rx="2.05" ry="2.85"/><ellipse cx="873.7" cy="543.0" rx="2.05" ry="2.85"/><ellipse cx="877.0" cy="543.6" rx="2.05" ry="2.85"/><ellipse cx="867.1" cy="545.8" rx="2.05" ry="2.85"/><ellipse cx="905.2" cy="544.9" rx="2.05" ry="2.85"/><ellipse cx="893.4" cy="544.5" rx="2.05" ry="2.85"/><ellipse cx="848.3" cy="547.4" rx="2.05" ry="2.85"/><ellipse cx="851.6" cy="548.5" rx="2.05" ry="2.85"/><ellipse cx="856.0" cy="546.9" rx="2.05" ry="2.85"/><ellipse cx="873.3" cy="568.6" rx="2.05" ry="2.85"/><ellipse cx="880.2" cy="561.8" rx="2.05" ry="2.85"/><ellipse cx="892.1" cy="558.6" rx="2.05" ry="2.85"/><ellipse cx="897.3" cy="554.7" rx="2.05" ry="2.85"/><ellipse cx="880.3" cy="554.0" rx="2.05" ry="2.85"/><ellipse cx="836.8" cy="570.2" rx="2.05" ry="2.85"/><ellipse cx="839.4" cy="579.8" rx="2.05" ry="2.85"/><ellipse cx="842.4" cy="578.3" rx="2.05" ry="2.85"/><ellipse cx="844.6" cy="576.9" rx="2.05" ry="2.85"/><ellipse cx="846.8" cy="574.7" rx="2.05" ry="2.85"/><ellipse cx="849.7" cy="578.3" rx="2.05" ry="2.85"/><ellipse cx="850.5" cy="573.2" rx="2.05" ry="2.85"/><ellipse cx="842.4" cy="564.3" rx="2.05" ry="2.85"/><ellipse cx="844.6" cy="560.6" rx="2.05" ry="2.85"/><ellipse cx="847.5" cy="557.7" rx="2.05" ry="2.85"/><ellipse cx="852.7" cy="569.5" rx="2.05" ry="2.85"/><ellipse cx="855.6" cy="567.3" rx="2.05" ry="2.85"/><ellipse cx="859.3" cy="572.4" rx="2.05" ry="2.85"/><ellipse cx="863.8" cy="569.5" rx="2.05" ry="2.85"/><ellipse cx="857.9" cy="563.6" rx="2.05" ry="2.85"/><ellipse cx="860.1" cy="558.4" rx="2.05" ry="2.85"/><ellipse cx="856.4" cy="560.6" rx="2.05" ry="2.85"/><ellipse cx="866.0" cy="561.4" rx="2.05" ry="2.85"/><ellipse cx="868.2" cy="557.7" rx="2.05" ry="2.85"/><ellipse cx="863.0" cy="554.7" rx="2.05" ry="2.85"/><ellipse cx="852.0" cy="550.3" rx="2.05" ry="2.85"/><ellipse cx="853.4" cy="553.3" rx="2.05" ry="2.85"/><ellipse cx="867.4" cy="547.4" rx="2.05" ry="2.85"/><ellipse cx="866.0" cy="549.6" rx="2.05" ry="2.85"/><ellipse cx="879.2" cy="542.2" rx="2.05" ry="2.85"/><ellipse cx="882.2" cy="540.7" rx="2.05" ry="2.85"/><ellipse cx="860.8" cy="565.8" rx="2.05" ry="2.85"/><ellipse cx="848.3" cy="571.0" rx="2.05" ry="2.85"/><ellipse cx="854.2" cy="564.3" rx="2.05" ry="2.85"/><ellipse cx="852.0" cy="560.6" rx="2.05" ry="2.85"/><ellipse cx="1068.5" cy="167.5" rx="2.05" ry="2.85"/><ellipse cx="851.2" cy="568.0" rx="2.05" ry="2.85"/><ellipse cx="857.1" cy="562.1" rx="2.05" ry="2.85"/><ellipse cx="860.1" cy="559.9" rx="2.05" ry="2.85"/><ellipse cx="856.4" cy="569.5" rx="2.05" ry="2.85"/><ellipse cx="859.3" cy="566.5" rx="2.05" ry="2.85"/><ellipse cx="862.3" cy="564.3" rx="2.05" ry="2.85"/><ellipse cx="853.4" cy="571.7" rx="2.05" ry="2.85"/><ellipse cx="857.9" cy="572.4" rx="2.05" ry="2.85"/><ellipse cx="860.8" cy="569.5" rx="2.05" ry="2.85"/><ellipse cx="864.5" cy="565.8" rx="2.05" ry="2.85"/><ellipse cx="866.0" cy="558.4" rx="2.05" ry="2.85"/><ellipse cx="867.4" cy="554.7" rx="2.05" ry="2.85"/><ellipse cx="848.3" cy="576.9" rx="2.05" ry="2.85"/><ellipse cx="843.8" cy="579.8" rx="2.05" ry="2.85"/><ellipse cx="854.9" cy="554.7" rx="2.05" ry="2.85"/><ellipse cx="857.1" cy="551.8" rx="2.05" ry="2.85"/><ellipse cx="849.7" cy="554.7" rx="2.05" ry="2.85"/><ellipse cx="847.5" cy="560.6" rx="2.05" ry="2.85"/><ellipse cx="859.3" cy="554.7" rx="2.05" ry="2.85"/><ellipse cx="863.0" cy="549.6" rx="2.05" ry="2.85"/><ellipse cx="853.4" cy="547.4" rx="2.05" ry="2.85"/><ellipse cx="866.0" cy="544.4" rx="2.05" ry="2.85"/><ellipse cx="868.9" cy="550.3" rx="2.05" ry="2.85"/><ellipse cx="860.8" cy="546.6" rx="2.05" ry="2.85"/>
</g>
<line x1="838.30" y1="587.90" x2="1384.10" y2="13.90" stroke="#000" stroke-width="3.15" stroke-linecap="round"/>
<path d="M833.95 10.40H1388.55M833.95 591.40H1388.55" fill="none" stroke="#000" stroke-width="2.7"/>
<line x1="835.00" y1="10.40" x2="835.00" y2="591.40" stroke="#000" stroke-width="2.1"/>
<line x1="1387.40" y1="10.40" x2="1387.40" y2="591.40" stroke="#000" stroke-width="2.3" stroke-linecap="square"/>
<line x1="1260.70" y1="80.10" x2="837.30" y2="576.00" stroke="#f00" stroke-width="2.7" stroke-dasharray="6.0 7.18" stroke-dashoffset="0" stroke-linecap="round"/>
<path d="M835.00 592.40v10.7M835.00 11.40v10.3M834.00 591.40h-6.4M1386.40 591.40h-6.4M865.69 592.40v4.6M865.69 11.40v4.9M834.00 559.12h-2.6M1386.40 559.12h-2.6M896.38 592.40v10.7M896.38 11.40v10.3M834.00 526.84h-6.4M1386.40 526.84h-6.4M927.07 592.40v4.6M927.07 11.40v4.9M834.00 494.57h-2.6M1386.40 494.57h-2.6M957.76 592.40v10.7M957.76 11.40v10.3M834.00 462.29h-6.4M1386.40 462.29h-6.4M988.44 592.40v4.6M988.44 11.40v4.9M834.00 430.01h-2.6M1386.40 430.01h-2.6M1019.13 592.40v10.7M1019.13 11.40v10.3M834.00 397.73h-6.4M1386.40 397.73h-6.4M1049.82 592.40v4.6M1049.82 11.40v4.9M834.00 365.46h-2.6M1386.40 365.46h-2.6M1080.51 592.40v10.7M1080.51 11.40v10.3M834.00 333.18h-6.4M1386.40 333.18h-6.4M1111.20 592.40v4.6M1111.20 11.40v4.9M834.00 300.90h-2.6M1386.40 300.90h-2.6M1141.89 592.40v10.7M1141.89 11.40v10.3M834.00 268.62h-6.4M1386.40 268.62h-6.4M1172.58 592.40v4.6M1172.58 11.40v4.9M834.00 236.34h-2.6M1386.40 236.34h-2.6M1203.27 592.40v10.7M1203.27 11.40v10.3M834.00 204.07h-6.4M1386.40 204.07h-6.4M1233.96 592.40v4.6M1233.96 11.40v4.9M834.00 171.79h-2.6M1386.40 171.79h-2.6M1264.64 592.40v10.7M1264.64 11.40v10.3M834.00 139.51h-6.4M1386.40 139.51h-6.4M1295.33 592.40v4.6M1295.33 11.40v4.9M834.00 107.23h-2.6M1386.40 107.23h-2.6M1326.02 592.40v10.7M1326.02 11.40v10.3M834.00 74.96h-6.4M1386.40 74.96h-6.4M1356.71 592.40v4.6M1356.71 11.40v4.9M834.00 42.68h-2.6M1386.40 42.68h-2.6M1387.40 592.40v10.7M1387.40 11.40v10.3M834.00 10.40h-6.4M1386.40 10.40h-6.4" stroke="#000" stroke-width="2.2" fill="none" stroke-linecap="round"/>
<text transform="translate(835.00,629.80) scale(0.69,1)" font-size="24.0" text-anchor="middle">0</text>
<text transform="translate(821.60,597.80) scale(0.69,1)" font-size="24.0" text-anchor="end">0</text>
<text transform="translate(896.38,629.80) scale(0.69,1)" font-size="24.0" text-anchor="middle">2</text>
<text transform="translate(821.60,533.24) scale(0.69,1)" font-size="24.0" text-anchor="end">2</text>
<text transform="translate(957.76,629.80) scale(0.69,1)" font-size="24.0" text-anchor="middle">4</text>
<text transform="translate(821.60,468.69) scale(0.69,1)" font-size="24.0" text-anchor="end">4</text>
<text transform="translate(1019.13,629.80) scale(0.69,1)" font-size="24.0" text-anchor="middle">6</text>
<text transform="translate(821.60,404.13) scale(0.69,1)" font-size="24.0" text-anchor="end">6</text>
<text transform="translate(1080.51,629.80) scale(0.69,1)" font-size="24.0" text-anchor="middle">8</text>
<text transform="translate(821.60,339.58) scale(0.69,1)" font-size="24.0" text-anchor="end">8</text>
<text transform="translate(1141.89,629.80) scale(0.69,1)" font-size="24.0" text-anchor="middle">10</text>
<text transform="translate(821.60,275.02) scale(0.69,1)" font-size="24.0" text-anchor="end">10</text>
<text transform="translate(1203.27,629.80) scale(0.69,1)" font-size="24.0" text-anchor="middle">12</text>
<text transform="translate(821.60,210.47) scale(0.69,1)" font-size="24.0" text-anchor="end">12</text>
<text transform="translate(1264.64,629.80) scale(0.69,1)" font-size="24.0" text-anchor="middle">14</text>
<text transform="translate(821.60,145.91) scale(0.69,1)" font-size="24.0" text-anchor="end">14</text>
<text transform="translate(1326.02,629.80) scale(0.69,1)" font-size="24.0" text-anchor="middle">16</text>
<text transform="translate(821.60,81.36) scale(0.69,1)" font-size="24.0" text-anchor="end">16</text>
<text transform="translate(1387.40,629.80) scale(0.69,1)" font-size="24.0" text-anchor="middle">18</text>
<text transform="translate(821.60,16.80) scale(0.69,1)" font-size="24.0" text-anchor="end">18</text>
<text transform="translate(1111.90,674.90) scale(0.69,1)" font-size="29.4" text-anchor="middle">PWV(radiosonde)[mm]</text>
<text transform="translate(789.15,319.10) scale(0.69,1) rotate(-90)" font-size="28.8" text-anchor="middle">PWV(WRF)[mm]</text>
<text transform="translate(859.00,60.00) scale(0.7,1)" font-size="29.4" text-anchor="start">Ali-A - All PWV</text>
<text transform="translate(858.70,131.00) scale(0.69,1)" font-size="29.4" text-anchor="start">bias=0.73</text>
<text transform="translate(858.70,166.30) scale(0.69,1)" font-size="29.4" text-anchor="start">rmse=1.27</text>
<text transform="translate(858.70,201.70) scale(0.69,1)" font-size="29.4" text-anchor="start">sigma=1.03</text>
</g>
<g id="panel3">
<g fill="#000">
<ellipse cx="1807.8" cy="228.9" rx="2.05" ry="2.85"/><ellipse cx="1812.1" cy="239.7" rx="2.05" ry="2.85"/><ellipse cx="1839.6" cy="245.1" rx="2.05" ry="2.85"/><ellipse cx="1849.2" cy="248.8" rx="2.05" ry="2.85"/><ellipse cx="1898.6" cy="234.8" rx="2.05" ry="2.85"/><ellipse cx="1772.4" cy="252.8" rx="2.05" ry="2.85"/><ellipse cx="1800.4" cy="266.5" rx="2.05" ry="2.85"/><ellipse cx="1799.6" cy="271.0" rx="2.05" ry="2.85"/><ellipse cx="1825.5" cy="266.2" rx="2.05" ry="2.85"/><ellipse cx="1831.7" cy="277.5" rx="2.05" ry="2.85"/><ellipse cx="1765.1" cy="283.2" rx="2.05" ry="2.85"/><ellipse cx="1769.0" cy="286.5" rx="2.05" ry="2.85"/><ellipse cx="1777.3" cy="283.8" rx="2.05" ry="2.85"/><ellipse cx="1791.0" cy="291.0" rx="2.05" ry="2.85"/><ellipse cx="1801.8" cy="297.8" rx="2.05" ry="2.85"/><ellipse cx="1813.7" cy="299.7" rx="2.05" ry="2.85"/><ellipse cx="1816.4" cy="298.2" rx="2.05" ry="2.85"/><ellipse cx="1880.8" cy="293.1" rx="2.05" ry="2.85"/><ellipse cx="1788.1" cy="301.9" rx="2.05" ry="2.85"/><ellipse cx="1782.0" cy="308.3" rx="2.05" ry="2.85"/><ellipse cx="1791.4" cy="307.5" rx="2.05" ry="2.85"/><ellipse cx="1787.5" cy="312.3" rx="2.05" ry="2.85"/><ellipse cx="1786.4" cy="316.2" rx="2.05" ry="2.85"/><ellipse cx="1822.6" cy="311.1" rx="2.05" ry="2.85"/><ellipse cx="1802.2" cy="317.0" rx="2.05" ry="2.85"/><ellipse cx="1759.2" cy="323.6" rx="2.05" ry="2.85"/><ellipse cx="1773.0" cy="322.1" rx="2.05" ry="2.85"/><ellipse cx="1769.8" cy="326.0" rx="2.05" ry="2.85"/><ellipse cx="1778.2" cy="330.0" rx="2.05" ry="2.85"/><ellipse cx="1797.3" cy="331.4" rx="2.05" ry="2.85"/><ellipse cx="1830.5" cy="326.6" rx="2.05" ry="2.85"/><ellipse cx="1764.6" cy="332.6" rx="2.05" ry="2.85"/><ellipse cx="1766.8" cy="334.1" rx="2.05" ry="2.85"/><ellipse cx="1726.4" cy="338.7" rx="2.05" ry="2.85"/><ellipse cx="1733.1" cy="342.4" rx="2.05" ry="2.85"/><ellipse cx="1719.1" cy="345.8" rx="2.05" ry="2.85"/><ellipse cx="1781.8" cy="339.4" rx="2.05" ry="2.85"/><ellipse cx="1772.7" cy="345.3" rx="2.05" ry="2.85"/><ellipse cx="1815.9" cy="342.1" rx="2.05" ry="2.85"/><ellipse cx="1735.3" cy="352.3" rx="2.05" ry="2.85"/><ellipse cx="1767.5" cy="354.2" rx="2.05" ry="2.85"/><ellipse cx="1802.9" cy="361.5" rx="2.05" ry="2.85"/><ellipse cx="1739.9" cy="363.0" rx="2.05" ry="2.85"/><ellipse cx="1735.8" cy="365.2" rx="2.05" ry="2.85"/><ellipse cx="1761.9" cy="367.7" rx="2.05" ry="2.85"/><ellipse cx="1782.1" cy="371.4" rx="2.05" ry="2.85"/><ellipse cx="1726.2" cy="374.4" rx="2.05" ry="2.85"/><ellipse cx="1712.2" cy="376.3" rx="2.05" ry="2.85"/><ellipse cx="1814.2" cy="377.8" rx="2.05" ry="2.85"/><ellipse cx="1771.8" cy="384.4" rx="2.05" ry="2.85"/><ellipse cx="1775.6" cy="386.3" rx="2.05" ry="2.85"/><ellipse cx="1737.6" cy="390.0" rx="2.05" ry="2.85"/><ellipse cx="1743.9" cy="388.8" rx="2.05" ry="2.85"/><ellipse cx="1749.6" cy="394.3" rx="2.05" ry="2.85"/><ellipse cx="1783.3" cy="393.5" rx="2.05" ry="2.85"/><ellipse cx="1733.9" cy="399.4" rx="2.05" ry="2.85"/><ellipse cx="1740.1" cy="401.4" rx="2.05" ry="2.85"/><ellipse cx="1725.5" cy="406.8" rx="2.05" ry="2.85"/><ellipse cx="1676.7" cy="406.2" rx="2.05" ry="2.85"/><ellipse cx="1675.9" cy="416.5" rx="2.05" ry="2.85"/><ellipse cx="1694.1" cy="418.5" rx="2.05" ry="2.85"/><ellipse cx="1711.8" cy="422.9" rx="2.05" ry="2.85"/><ellipse cx="1729.2" cy="420.2" rx="2.05" ry="2.85"/><ellipse cx="1698.8" cy="426.7" rx="2.05" ry="2.85"/><ellipse cx="1703.7" cy="428.3" rx="2.05" ry="2.85"/><ellipse cx="1720.8" cy="429.8" rx="2.05" ry="2.85"/><ellipse cx="1749.9" cy="429.6" rx="2.05" ry="2.85"/><ellipse cx="1687.7" cy="432.2" rx="2.05" ry="2.85"/><ellipse cx="1669.1" cy="432.2" rx="2.05" ry="2.85"/><ellipse cx="1671.8" cy="433.5" rx="2.05" ry="2.85"/><ellipse cx="1691.5" cy="436.9" rx="2.05" ry="2.85"/><ellipse cx="1692.1" cy="439.4" rx="2.05" ry="2.85"/><ellipse cx="1686.5" cy="440.8" rx="2.05" ry="2.85"/><ellipse cx="1668.1" cy="441.3" rx="2.05" ry="2.85"/><ellipse cx="1703.7" cy="441.8" rx="2.05" ry="2.85"/><ellipse cx="1718.9" cy="438.8" rx="2.05" ry="2.85"/><ellipse cx="1675.8" cy="449.0" rx="2.05" ry="2.85"/><ellipse cx="1648.0" cy="450.7" rx="2.05" ry="2.85"/><ellipse cx="1689.1" cy="452.3" rx="2.05" ry="2.85"/><ellipse cx="1713.1" cy="451.3" rx="2.05" ry="2.85"/><ellipse cx="1700.1" cy="454.3" rx="2.05" ry="2.85"/><ellipse cx="1706.0" cy="456.3" rx="2.05" ry="2.85"/><ellipse cx="1690.9" cy="458.7" rx="2.05" ry="2.85"/><ellipse cx="1685.6" cy="460.6" rx="2.05" ry="2.85"/><ellipse cx="1700.7" cy="462.4" rx="2.05" ry="2.85"/><ellipse cx="1683.8" cy="465.7" rx="2.05" ry="2.85"/><ellipse cx="1734.4" cy="465.4" rx="2.05" ry="2.85"/><ellipse cx="1643.9" cy="467.8" rx="2.05" ry="2.85"/><ellipse cx="1658.5" cy="469.5" rx="2.05" ry="2.85"/><ellipse cx="1666.3" cy="470.6" rx="2.05" ry="2.85"/><ellipse cx="1688.7" cy="470.3" rx="2.05" ry="2.85"/><ellipse cx="1732.8" cy="470.6" rx="2.05" ry="2.85"/><ellipse cx="1652.2" cy="472.8" rx="2.05" ry="2.85"/><ellipse cx="1708.9" cy="472.3" rx="2.05" ry="2.85"/><ellipse cx="1661.4" cy="476.2" rx="2.05" ry="2.85"/><ellipse cx="1668.5" cy="475.7" rx="2.05" ry="2.85"/><ellipse cx="1714.0" cy="476.1" rx="2.05" ry="2.85"/><ellipse cx="1637.6" cy="478.1" rx="2.05" ry="2.85"/><ellipse cx="1673.3" cy="481.6" rx="2.05" ry="2.85"/><ellipse cx="1680.2" cy="482.5" rx="2.05" ry="2.85"/><ellipse cx="1649.3" cy="488.0" rx="2.05" ry="2.85"/><ellipse cx="1682.3" cy="489.4" rx="2.05" ry="2.85"/><ellipse cx="1635.3" cy="491.6" rx="2.05" ry="2.85"/><ellipse cx="1641.4" cy="495.8" rx="2.05" ry="2.85"/><ellipse cx="1646.3" cy="500.5" rx="2.05" ry="2.85"/><ellipse cx="1651.5" cy="500.5" rx="2.05" ry="2.85"/><ellipse cx="1652.6" cy="502.0" rx="2.05" ry="2.85"/><ellipse cx="1633.3" cy="503.5" rx="2.05" ry="2.85"/><ellipse cx="1639.5" cy="505.9" rx="2.05" ry="2.85"/><ellipse cx="1643.9" cy="505.2" rx="2.05" ry="2.85"/><ellipse cx="1646.3" cy="506.8" rx="2.05" ry="2.85"/><ellipse cx="1647.1" cy="509.0" rx="2.05" ry="2.85"/><ellipse cx="1645.6" cy="510.9" rx="2.05" ry="2.85"/><ellipse cx="1646.7" cy="513.8" rx="2.05" ry="2.85"/><ellipse cx="1631.7" cy="510.9" rx="2.05" ry="2.85"/><ellipse cx="1633.1" cy="514.5" rx="2.05" ry="2.85"/><ellipse cx="1656.7" cy="505.7" rx="2.05" ry="2.85"/><ellipse cx="1654.1" cy="507.5" rx="2.05" ry="2.85"/><ellipse cx="1652.6" cy="512.3" rx="2.05" ry="2.85"/><ellipse cx="1659.6" cy="512.7" rx="2.05" ry="2.85"/><ellipse cx="1658.9" cy="515.6" rx="2.05" ry="2.85"/><ellipse cx="1655.2" cy="520.1" rx="2.05" ry="2.85"/><ellipse cx="1641.9" cy="520.8" rx="2.05" ry="2.85"/><ellipse cx="1636.8" cy="522.6" rx="2.05" ry="2.85"/><ellipse cx="1633.8" cy="524.1" rx="2.05" ry="2.85"/><ellipse cx="1627.5" cy="527.2" rx="2.05" ry="2.85"/><ellipse cx="1639.7" cy="529.7" rx="2.05" ry="2.85"/><ellipse cx="1651.1" cy="528.5" rx="2.05" ry="2.85"/><ellipse cx="1631.2" cy="531.9" rx="2.05" ry="2.85"/><ellipse cx="1634.5" cy="535.2" rx="2.05" ry="2.85"/><ellipse cx="1629.4" cy="537.4" rx="2.05" ry="2.85"/><ellipse cx="1639.0" cy="534.8" rx="2.05" ry="2.85"/><ellipse cx="1644.9" cy="532.6" rx="2.05" ry="2.85"/><ellipse cx="1646.3" cy="536.3" rx="2.05" ry="2.85"/><ellipse cx="1643.4" cy="539.2" rx="2.05" ry="2.85"/><ellipse cx="1649.3" cy="539.2" rx="2.05" ry="2.85"/><ellipse cx="1652.2" cy="538.5" rx="2.05" ry="2.85"/><ellipse cx="1647.1" cy="541.5" rx="2.05" ry="2.85"/><ellipse cx="1641.2" cy="542.2" rx="2.05" ry="2.85"/><ellipse cx="1625.0" cy="545.0" rx="2.05" ry="2.85"/><ellipse cx="1669.9" cy="496.5" rx="2.05" ry="2.85"/><ellipse cx="1674.4" cy="498.7" rx="2.05" ry="2.85"/><ellipse cx="1675.1" cy="501.3" rx="2.05" ry="2.85"/><ellipse cx="1667.4" cy="501.6" rx="2.05" ry="2.85"/><ellipse cx="1672.0" cy="506.2" rx="2.05" ry="2.85"/><ellipse cx="1672.1" cy="510.1" rx="2.05" ry="2.85"/><ellipse cx="1670.8" cy="514.3" rx="2.05" ry="2.85"/><ellipse cx="1664.2" cy="519.3" rx="2.05" ry="2.85"/><ellipse cx="1666.2" cy="521.9" rx="2.05" ry="2.85"/><ellipse cx="1664.8" cy="525.2" rx="2.05" ry="2.85"/><ellipse cx="1658.5" cy="524.9" rx="2.05" ry="2.85"/><ellipse cx="1658.9" cy="528.2" rx="2.05" ry="2.85"/><ellipse cx="1660.7" cy="530.8" rx="2.05" ry="2.85"/><ellipse cx="1667.0" cy="531.5" rx="2.05" ry="2.85"/><ellipse cx="1690.2" cy="499.1" rx="2.05" ry="2.85"/><ellipse cx="1681.4" cy="510.5" rx="2.05" ry="2.85"/><ellipse cx="1655.8" cy="552.2" rx="2.05" ry="2.85"/><ellipse cx="1666.6" cy="559.8" rx="2.05" ry="2.85"/><ellipse cx="1640.3" cy="562.9" rx="2.05" ry="2.85"/><ellipse cx="1612.1" cy="585.0" rx="2.05" ry="2.85"/><ellipse cx="1612.4" cy="581.3" rx="2.05" ry="2.85"/><ellipse cx="1618.3" cy="582.8" rx="2.05" ry="2.85"/><ellipse cx="1615.4" cy="578.3" rx="2.05" ry="2.85"/><ellipse cx="1612.4" cy="570.2" rx="2.05" ry="2.85"/><ellipse cx="1611.7" cy="572.4" rx="2.05" ry="2.85"/><ellipse cx="1615.4" cy="574.7" rx="2.05" ry="2.85"/><ellipse cx="1619.1" cy="576.9" rx="2.05" ry="2.85"/><ellipse cx="1622.7" cy="578.3" rx="2.05" ry="2.85"/><ellipse cx="1625.7" cy="576.1" rx="2.05" ry="2.85"/><ellipse cx="1628.6" cy="573.9" rx="2.05" ry="2.85"/><ellipse cx="1622.7" cy="573.2" rx="2.05" ry="2.85"/><ellipse cx="1619.1" cy="571.0" rx="2.05" ry="2.85"/><ellipse cx="1616.8" cy="568.0" rx="2.05" ry="2.85"/><ellipse cx="1621.3" cy="568.0" rx="2.05" ry="2.85"/><ellipse cx="1625.7" cy="571.0" rx="2.05" ry="2.85"/><ellipse cx="1633.1" cy="568.8" rx="2.05" ry="2.85"/><ellipse cx="1630.1" cy="565.8" rx="2.05" ry="2.85"/><ellipse cx="1633.8" cy="565.8" rx="2.05" ry="2.85"/><ellipse cx="1626.4" cy="565.8" rx="2.05" ry="2.85"/><ellipse cx="1622.7" cy="563.6" rx="2.05" ry="2.85"/><ellipse cx="1617.6" cy="560.6" rx="2.05" ry="2.85"/><ellipse cx="1619.1" cy="557.0" rx="2.05" ry="2.85"/><ellipse cx="1621.3" cy="551.1" rx="2.05" ry="2.85"/><ellipse cx="1624.6" cy="546.6" rx="2.05" ry="2.85"/><ellipse cx="1625.0" cy="550.3" rx="2.05" ry="2.85"/><ellipse cx="1627.2" cy="554.0" rx="2.05" ry="2.85"/><ellipse cx="1627.2" cy="559.2" rx="2.05" ry="2.85"/><ellipse cx="1630.1" cy="560.6" rx="2.05" ry="2.85"/><ellipse cx="1633.8" cy="562.1" rx="2.05" ry="2.85"/><ellipse cx="1637.5" cy="558.4" rx="2.05" ry="2.85"/><ellipse cx="1632.3" cy="557.0" rx="2.05" ry="2.85"/><ellipse cx="1630.1" cy="553.3" rx="2.05" ry="2.85"/><ellipse cx="1634.5" cy="551.1" rx="2.05" ry="2.85"/><ellipse cx="1637.5" cy="547.4" rx="2.05" ry="2.85"/><ellipse cx="1636.0" cy="554.7" rx="2.05" ry="2.85"/><ellipse cx="1641.2" cy="553.3" rx="2.05" ry="2.85"/><ellipse cx="1644.9" cy="551.8" rx="2.05" ry="2.85"/><ellipse cx="1647.8" cy="552.5" rx="2.05" ry="2.85"/><ellipse cx="1644.1" cy="557.0" rx="2.05" ry="2.85"/><ellipse cx="1640.4" cy="544.4" rx="2.05" ry="2.85"/><ellipse cx="1642.7" cy="542.2" rx="2.05" ry="2.85"/><ellipse cx="1646.3" cy="544.4" rx="2.05" ry="2.85"/><ellipse cx="1649.3" cy="541.5" rx="2.05" ry="2.85"/><ellipse cx="1652.2" cy="542.9" rx="2.05" ry="2.85"/><ellipse cx="1655.2" cy="540.7" rx="2.05" ry="2.85"/><ellipse cx="1644.9" cy="548.1" rx="2.05" ry="2.85"/><ellipse cx="1622.7" cy="559.9" rx="2.05" ry="2.85"/><ellipse cx="1628.6" cy="562.9" rx="2.05" ry="2.85"/><ellipse cx="1625.7" cy="564.3" rx="2.05" ry="2.85"/><ellipse cx="1619.1" cy="573.9" rx="2.05" ry="2.85"/><ellipse cx="1622.0" cy="575.4" rx="2.05" ry="2.85"/><ellipse cx="1614.6" cy="581.3" rx="2.05" ry="2.85"/><ellipse cx="1632.3" cy="548.8" rx="2.05" ry="2.85"/><ellipse cx="1637.5" cy="551.8" rx="2.05" ry="2.85"/><ellipse cx="1639.0" cy="548.8" rx="2.05" ry="2.85"/><ellipse cx="1642.7" cy="547.4" rx="2.05" ry="2.85"/><ellipse cx="1630.1" cy="557.0" rx="2.05" ry="2.85"/><ellipse cx="1633.8" cy="559.2" rx="2.05" ry="2.85"/><ellipse cx="1638.2" cy="562.1" rx="2.05" ry="2.85"/><ellipse cx="1641.2" cy="559.9" rx="2.05" ry="2.85"/><ellipse cx="1646.3" cy="555.5" rx="2.05" ry="2.85"/><ellipse cx="1649.3" cy="549.6" rx="2.05" ry="2.85"/><ellipse cx="1652.2" cy="547.4" rx="2.05" ry="2.85"/><ellipse cx="1615.4" cy="571.0" rx="2.05" ry="2.85"/><ellipse cx="1612.4" cy="575.4" rx="2.05" ry="2.85"/>
</g>
<line x1="1612.30" y1="587.90" x2="2158.00" y2="13.90" stroke="#000" stroke-width="3.15" stroke-linecap="round"/>
<path d="M1607.95 10.40H2162.45M1607.95 591.40H2162.45" fill="none" stroke="#000" stroke-width="2.7"/>
<line x1="1609.00" y1="10.40" x2="1609.00" y2="591.40" stroke="#000" stroke-width="2.1"/>
<line x1="2161.30" y1="10.40" x2="2161.30" y2="591.40" stroke="#000" stroke-width="2.3" stroke-linecap="square"/>
<line x1="1609.00" y1="9.90" x2="2161.30" y2="9.90" stroke="#000" stroke-width="3.8"/>
<line x1="1609.00" y1="590.90" x2="2161.30" y2="590.90" stroke="#000" stroke-width="3.9"/>
<line x1="1898.80" y1="166.30" x2="1611.30" y2="579.20" stroke="#f00" stroke-width="2.9" stroke-dasharray="4.1 5.84" stroke-dashoffset="3.97" stroke-linecap="round"/>
<path d="M1609.00 592.40v10.7M1609.00 11.40v10.3M1608.00 591.40h-6.4M2160.30 591.40h-6.4M1639.68 592.40v4.6M1639.68 11.40v4.9M1608.00 559.12h-2.6M2160.30 559.12h-2.6M1670.37 592.40v10.7M1670.37 11.40v10.3M1608.00 526.84h-6.4M2160.30 526.84h-6.4M1701.05 592.40v4.6M1701.05 11.40v4.9M1608.00 494.57h-2.6M2160.30 494.57h-2.6M1731.73 592.40v10.7M1731.73 11.40v10.3M1608.00 462.29h-6.4M2160.30 462.29h-6.4M1762.42 592.40v4.6M1762.42 11.40v4.9M1608.00 430.01h-2.6M2160.30 430.01h-2.6M1793.10 592.40v10.7M1793.10 11.40v10.3M1608.00 397.73h-6.4M2160.30 397.73h-6.4M1823.78 592.40v4.6M1823.78 11.40v4.9M1608.00 365.46h-2.6M2160.30 365.46h-2.6M1854.47 592.40v10.7M1854.47 11.40v10.3M1608.00 333.18h-6.4M2160.30 333.18h-6.4M1885.15 592.40v4.6M1885.15 11.40v4.9M1608.00 300.90h-2.6M2160.30 300.90h-2.6M1915.83 592.40v10.7M1915.83 11.40v10.3M1608.00 268.62h-6.4M2160.30 268.62h-6.4M1946.52 592.40v4.6M1946.52 11.40v4.9M1608.00 236.34h-2.6M2160.30 236.34h-2.6M1977.20 592.40v10.7M1977.20 11.40v10.3M1608.00 204.07h-6.4M2160.30 204.07h-6.4M2007.88 592.40v4.6M2007.88 11.40v4.9M1608.00 171.79h-2.6M2160.30 171.79h-2.6M2038.57 592.40v10.7M2038.57 11.40v10.3M1608.00 139.51h-6.4M2160.30 139.51h-6.4M2069.25 592.40v4.6M2069.25 11.40v4.9M1608.00 107.23h-2.6M2160.30 107.23h-2.6M2099.93 592.40v10.7M2099.93 11.40v10.3M1608.00 74.96h-6.4M2160.30 74.96h-6.4M2130.62 592.40v4.6M2130.62 11.40v4.9M1608.00 42.68h-2.6M2160.30 42.68h-2.6M2161.30 592.40v10.7M2161.30 11.40v10.3M1608.00 10.40h-6.4M2160.30 10.40h-6.4" stroke="#000" stroke-width="2.2" fill="none" stroke-linecap="round"/>
<text transform="translate(1609.00,629.80) scale(0.69,1)" font-size="24.0" text-anchor="middle">0</text>
<text transform="translate(1595.60,597.80) scale(0.69,1)" font-size="24.0" text-anchor="end">0</text>
<text transform="translate(1670.37,629.80) scale(0.69,1)" font-size="24.0" text-anchor="middle">2</text>
<text transform="translate(1595.60,533.24) scale(0.69,1)" font-size="24.0" text-anchor="end">2</text>
<text transform="translate(1731.73,629.80) scale(0.69,1)" font-size="24.0" text-anchor="middle">4</text>
<text transform="translate(1595.60,468.69) scale(0.69,1)" font-size="24.0" text-anchor="end">4</text>
<text transform="translate(1793.10,629.80) scale(0.69,1)" font-size="24.0" text-anchor="middle">6</text>
<text transform="translate(1595.60,404.13) scale(0.69,1)" font-size="24.0" text-anchor="end">6</text>
<text transform="translate(1854.47,629.80) scale(0.69,1)" font-size="24.0" text-anchor="middle">8</text>
<text transform="translate(1595.60,339.58) scale(0.69,1)" font-size="24.0" text-anchor="end">8</text>
<text transform="translate(1915.83,629.80) scale(0.69,1)" font-size="24.0" text-anchor="middle">10</text>
<text transform="translate(1595.60,275.02) scale(0.69,1)" font-size="24.0" text-anchor="end">10</text>
<text transform="translate(1977.20,629.80) scale(0.69,1)" font-size="24.0" text-anchor="middle">12</text>
<text transform="translate(1595.60,210.47) scale(0.69,1)" font-size="24.0" text-anchor="end">12</text>
<text transform="translate(2038.57,629.80) scale(0.69,1)" font-size="24.0" text-anchor="middle">14</text>
<text transform="translate(1595.60,145.91) scale(0.69,1)" font-size="24.0" text-anchor="end">14</text>
<text transform="translate(2099.93,629.80) scale(0.69,1)" font-size="24.0" text-anchor="middle">16</text>
<text transform="translate(1595.60,81.36) scale(0.69,1)" font-size="24.0" text-anchor="end">16</text>
<text transform="translate(2161.30,629.80) scale(0.69,1)" font-size="24.0" text-anchor="middle">18</text>
<text transform="translate(1595.60,16.80) scale(0.69,1)" font-size="24.0" text-anchor="end">18</text>
<text transform="translate(1885.85,674.90) scale(0.69,1)" font-size="29.4" text-anchor="middle">PWV(radiosonde)[mm]</text>
<text transform="translate(1563.15,319.10) scale(0.69,1) rotate(-90)" font-size="28.8" text-anchor="middle">PWV(WRF)[mm]</text>
<text transform="translate(1634.00,65.60) scale(0.7,1)" font-size="29.4" text-anchor="start">Ali-E- All PWV</text>
<text transform="translate(1633.70,136.10) scale(0.69,1)" font-size="29.4" text-anchor="start">bias=1.01</text>
<text transform="translate(1633.70,171.60) scale(0.69,1)" font-size="29.4" text-anchor="start">rmse=1.49</text>
<text transform="translate(1633.70,207.00) scale(0.69,1)" font-size="29.4" text-anchor="start">sigma=1.09</text>
</g>
</svg>
</body></html>
